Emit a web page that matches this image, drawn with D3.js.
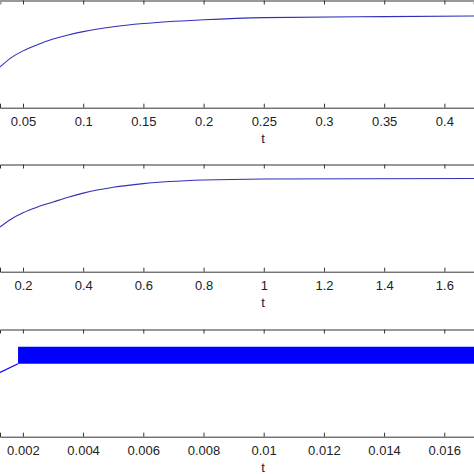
<!DOCTYPE html><html><head><meta charset="utf-8">
<script src="https://cdn.jsdelivr.net/npm/d3@7"></script>
<style>body{margin:0;background:#fff}svg{display:block}text{font-family:"Liberation Sans",Arial,sans-serif}</style>
</head><body><svg id="c" width="474" height="474"></svg>
<script>
const t1 = [0.0309,0.04,0.05,0.0625,0.075,0.0875,0.1,0.125,0.15,0.2,0.25,0.35,0.425];
const v1 = [0.38,0.465,0.53,0.59,0.64,0.678,0.71,0.755,0.785,0.82,0.84,0.85,0.855];
const t2 = [0.1236,0.16,0.2,0.25,0.3,0.35,0.4,0.5,0.6,0.8,1.0,1.7];
const v2 = [0.417,0.49,0.55,0.605,0.65,0.695,0.733,0.788,0.822,0.855,0.865,0.87];
const t3 = [0.00124,0.00184];
const v3 = [0.60,0.68];
const bandT = [0.00184,0.0175];
const bandLow = [0.68,0.68];
const bandHigh = [0.84,0.84];
const ticks1 = [0.05,0.1,0.15,0.2,0.25,0.3,0.35,0.4];
const ticks2 = [0.2,0.4,0.6,0.8,1,1.2,1.4,1.6];
const ticks3 = [0.002,0.004,0.006,0.008,0.01,0.012,0.014,0.016];

const svg=d3.select("#c");
const W=474;
const panels=[
 {top:0.5,bot:107.7,dom:[0.0309,0.0309+474/1204],t:t1,v:v1,ticks:ticks1},
 {top:164.5,bot:271.7,dom:[0.1236,0.1236+474/301],t:t2,v:v2,ticks:ticks2},
 {top:329.5,bot:436.7,dom:[0.00124,0.00124+474/30100],t:t3,v:v3,ticks:ticks3,band:true}
];
panels.forEach(p=>{
 const x=d3.scaleLinear().domain(p.dom).range([0,W]);
 const y=d3.scaleLinear().domain([0,1]).range([p.bot,p.top]);
 const g=svg.append("g");
 if(p.band){
  const a=d3.area().x((d,i)=>x(bandT[i])).y0((d,i)=>y(bandLow[i])).y1((d,i)=>y(bandHigh[i]));
  g.append("path").datum(bandT).attr("d",a).attr("fill","#0000ff");
 }
 const line=d3.line().x((d,i)=>x(p.t[i])).y((d,i)=>y(p.v[i])).curve(d3.curveMonotoneX);
 g.append("path").datum(p.t).attr("d",line).attr("fill","none").attr("stroke",p.band?"#0000ff":"#3030b8").attr("stroke-width",1.1);
 const ab=d3.axisBottom(x).tickValues(p.ticks).tickSize(-4).tickPadding(7).tickFormat(d=>String(d));
 const gb=g.append("g").attr("transform",`translate(0,${p.bot})`).call(ab);
 gb.select(".domain").attr("stroke","#333").attr("stroke-width",1);
 gb.selectAll(".tick line").attr("stroke","#333");
 gb.selectAll("text").attr("font-size",13).attr("fill","#222").attr("dy","0.85em");
 const at=d3.axisTop(x).tickValues(p.ticks).tickSize(-4).tickFormat("");
 const gt=g.append("g").attr("transform",`translate(0,${p.top})`).call(at);
 gt.select(".domain").attr("stroke",p.top<2?"#999":"#333").attr("stroke-width",p.top<2?2:1);
 gt.selectAll(".tick line").attr("stroke","#333");
 g.append("text").attr("x",263).attr("y",p.bot+35).attr("text-anchor","middle").attr("font-size",13).attr("fill","#222").text("t");
});
</script></body></html>
